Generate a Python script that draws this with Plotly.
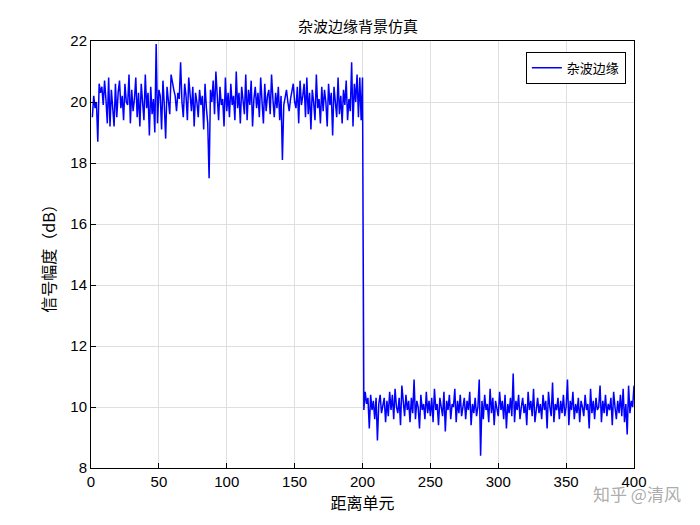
import plotly.graph_objects as go

# --- data ---
high_part = [
    19.5, 20.2, 19.8, 20.0, 18.7, 20.6, 20.3, 20.5, 19.9, 20.7,
    20.1, 19.3, 20.8, 19.2, 20.4, 19.6, 19.2, 20.6, 19.5, 20.3,
    20.7, 19.8, 20.2, 19.4, 20.6, 20.0, 19.9, 20.9, 19.3, 20.4,
    19.7, 20.1, 20.8, 19.5, 20.3, 19.2, 20.6, 20.0, 19.4, 20.9,
    19.8, 20.3, 18.9, 20.5, 19.6, 20.1, 19.0, 21.9, 19.3, 20.4,
    20.2, 19.1, 20.7, 19.9, 18.8, 20.5, 20.0, 19.6, 20.9, 20.6,
    20.4, 20.2, 19.7, 20.3, 20.1, 21.3, 20.0, 19.5, 20.6, 20.2,
    19.4, 20.8, 20.1, 19.7, 20.5, 19.2, 20.3, 20.0, 19.5, 20.4,
    19.9, 20.2, 19.1, 20.6, 19.8, 19.3, 17.5, 20.4, 20.0, 20.7,
    19.6, 21.0, 20.2, 19.4, 20.5, 19.9, 20.1, 19.2, 20.8, 19.7,
    20.3, 19.5, 20.6, 19.9, 20.2, 19.4, 21.0, 19.8, 20.3, 19.3,
    20.5, 20.0, 19.6, 20.9, 19.4, 20.4, 19.9, 20.7, 19.2, 20.1,
    20.5, 19.8, 20.3, 19.5, 20.8, 20.0, 19.3, 20.6, 19.7, 20.2,
    20.4, 19.6, 20.9, 20.1, 19.5, 20.3, 19.8, 20.5, 19.4, 20.2,
    18.1, 19.9, 20.2, 20.4, 20.0, 19.7, 20.1, 20.3, 20.6, 20.0,
    19.8, 20.5, 19.3, 20.7, 19.9, 20.2, 20.6, 19.5, 20.8, 19.6,
    20.3, 19.1, 20.4, 20.0, 19.4, 20.9, 19.8, 20.1, 19.3, 20.5,
    19.7, 20.4, 20.0, 19.2, 20.6, 19.9, 20.3, 18.9, 20.5, 20.0,
    19.5, 20.8, 19.6, 20.2, 19.3, 20.4, 19.9, 20.7, 19.4, 20.1,
    19.7, 21.3, 19.2, 20.6, 20.0, 20.9, 19.5, 20.8, 19.4, 20.8,
]
low_part = [
    9.9, 10.5, 10.1, 10.3, 9.3, 10.4, 9.9, 10.2, 9.6, 10.3,
    8.9, 10.1, 10.4, 9.8, 10.0, 10.3, 9.5, 10.2, 9.7, 10.5,
    9.9, 10.4, 9.6, 10.6, 10.0, 9.8, 10.3, 9.4, 10.7, 10.1,
    9.7, 10.4, 9.9, 10.2, 9.5, 10.3, 9.8, 10.9, 9.6, 10.2,
    10.0, 9.3, 10.4, 9.9, 10.1, 9.6, 10.5, 9.8, 10.2, 9.7,
    10.3, 9.5, 10.6, 9.9, 10.1, 9.4, 10.3, 10.0, 9.7, 10.5,
    9.2, 10.2, 9.9, 10.4, 9.6, 10.1, 10.0, 10.6, 9.5, 10.2,
    9.8, 10.4, 9.7, 10.0, 10.3, 9.6, 10.2, 9.9, 10.5, 9.4,
    10.1, 9.8, 10.3, 9.7, 10.0, 10.9, 8.4, 10.2, 9.6, 10.4,
    9.9, 10.1, 9.5, 10.6, 9.8, 10.3, 9.4, 10.2, 10.0, 9.7,
    10.5, 9.9, 10.2, 9.6, 10.4, 9.3, 10.1, 9.8, 10.3, 9.7,
    11.1, 9.5, 10.2, 9.9, 10.4, 9.6, 10.0, 10.3, 9.8, 10.1,
    9.4, 10.5, 9.9, 10.2, 9.7, 10.6, 9.5, 10.0, 10.3, 9.8,
    10.1, 9.6, 10.4, 9.9, 10.2, 9.3, 10.5, 10.0, 9.7, 10.8,
    9.5, 10.1, 9.9, 10.3, 9.6, 10.2, 9.8, 10.4, 9.7, 10.0,
    10.9, 9.4, 10.2, 9.9, 10.5, 9.6, 10.1, 9.8, 10.3, 9.5,
    10.2, 10.0, 9.7, 10.4, 9.9, 10.1, 9.3, 10.6, 9.8, 10.2,
    9.6, 10.3, 9.9, 10.0, 10.7, 9.5, 10.2, 9.8, 10.4, 9.7,
    10.1, 9.9, 10.3, 9.4, 10.5, 10.0, 9.6, 10.2, 9.8, 10.4,
    9.7, 10.6, 9.5, 10.1, 9.1, 10.7, 9.8, 10.2, 10.0, 10.7,
]
amplitude = high_part + low_part
cells = list(range(1, len(amplitude) + 1))

fig = go.Figure(go.Scatter(x=cells, y=amplitude, mode='lines', name='杂波边缘',
                           line=dict(color='rgb(0,0,255)', width=1.5)))

axis_style = dict(showline=True, linecolor='black', linewidth=1, mirror=True,
                  ticks='inside', ticklen=5, tickcolor='black',
                  showgrid=True, gridcolor='rgb(223,223,223)', zeroline=False,
                  tickfont=dict(family='Liberation Sans', size=15, color='black'))

fig.update_layout(
    width=700, height=525,
    paper_bgcolor='white', plot_bgcolor='white',
    margin=dict(l=83, r=74, t=33, b=65),
    title=dict(text='杂波边缘背景仿真', x=0.5, xanchor='center', y=0.975,
               font=dict(family='Noto Sans CJK SC', size=15, color='black')),
    xaxis=dict(range=[0, 400], dtick=50,
               title=dict(text='距离单元', standoff=6,
                          font=dict(family='Noto Sans CJK SC', size=16, color='black')),
               **axis_style),
    yaxis=dict(range=[8, 22], dtick=2,
               title=dict(text='信号幅度（dB）', standoff=10,
                          font=dict(family='Noto Sans CJK SC', size=16, color='black')),
               **axis_style),
    showlegend=True,
    legend=dict(x=0.985, y=0.975, xanchor='right', yanchor='top',
                bgcolor='white', bordercolor='black', borderwidth=1,
                font=dict(family='Noto Sans CJK SC', size=13, color='black')),
    annotations=[dict(text='知乎 @清风', xref='paper', yref='paper', x=1.09, y=-0.06,
                      xanchor='right', yanchor='middle', showarrow=False,
                      font=dict(family='Noto Sans CJK SC', size=17, color='rgba(150,150,150,0.8)'))],
)

fig.write_html("out.html")
